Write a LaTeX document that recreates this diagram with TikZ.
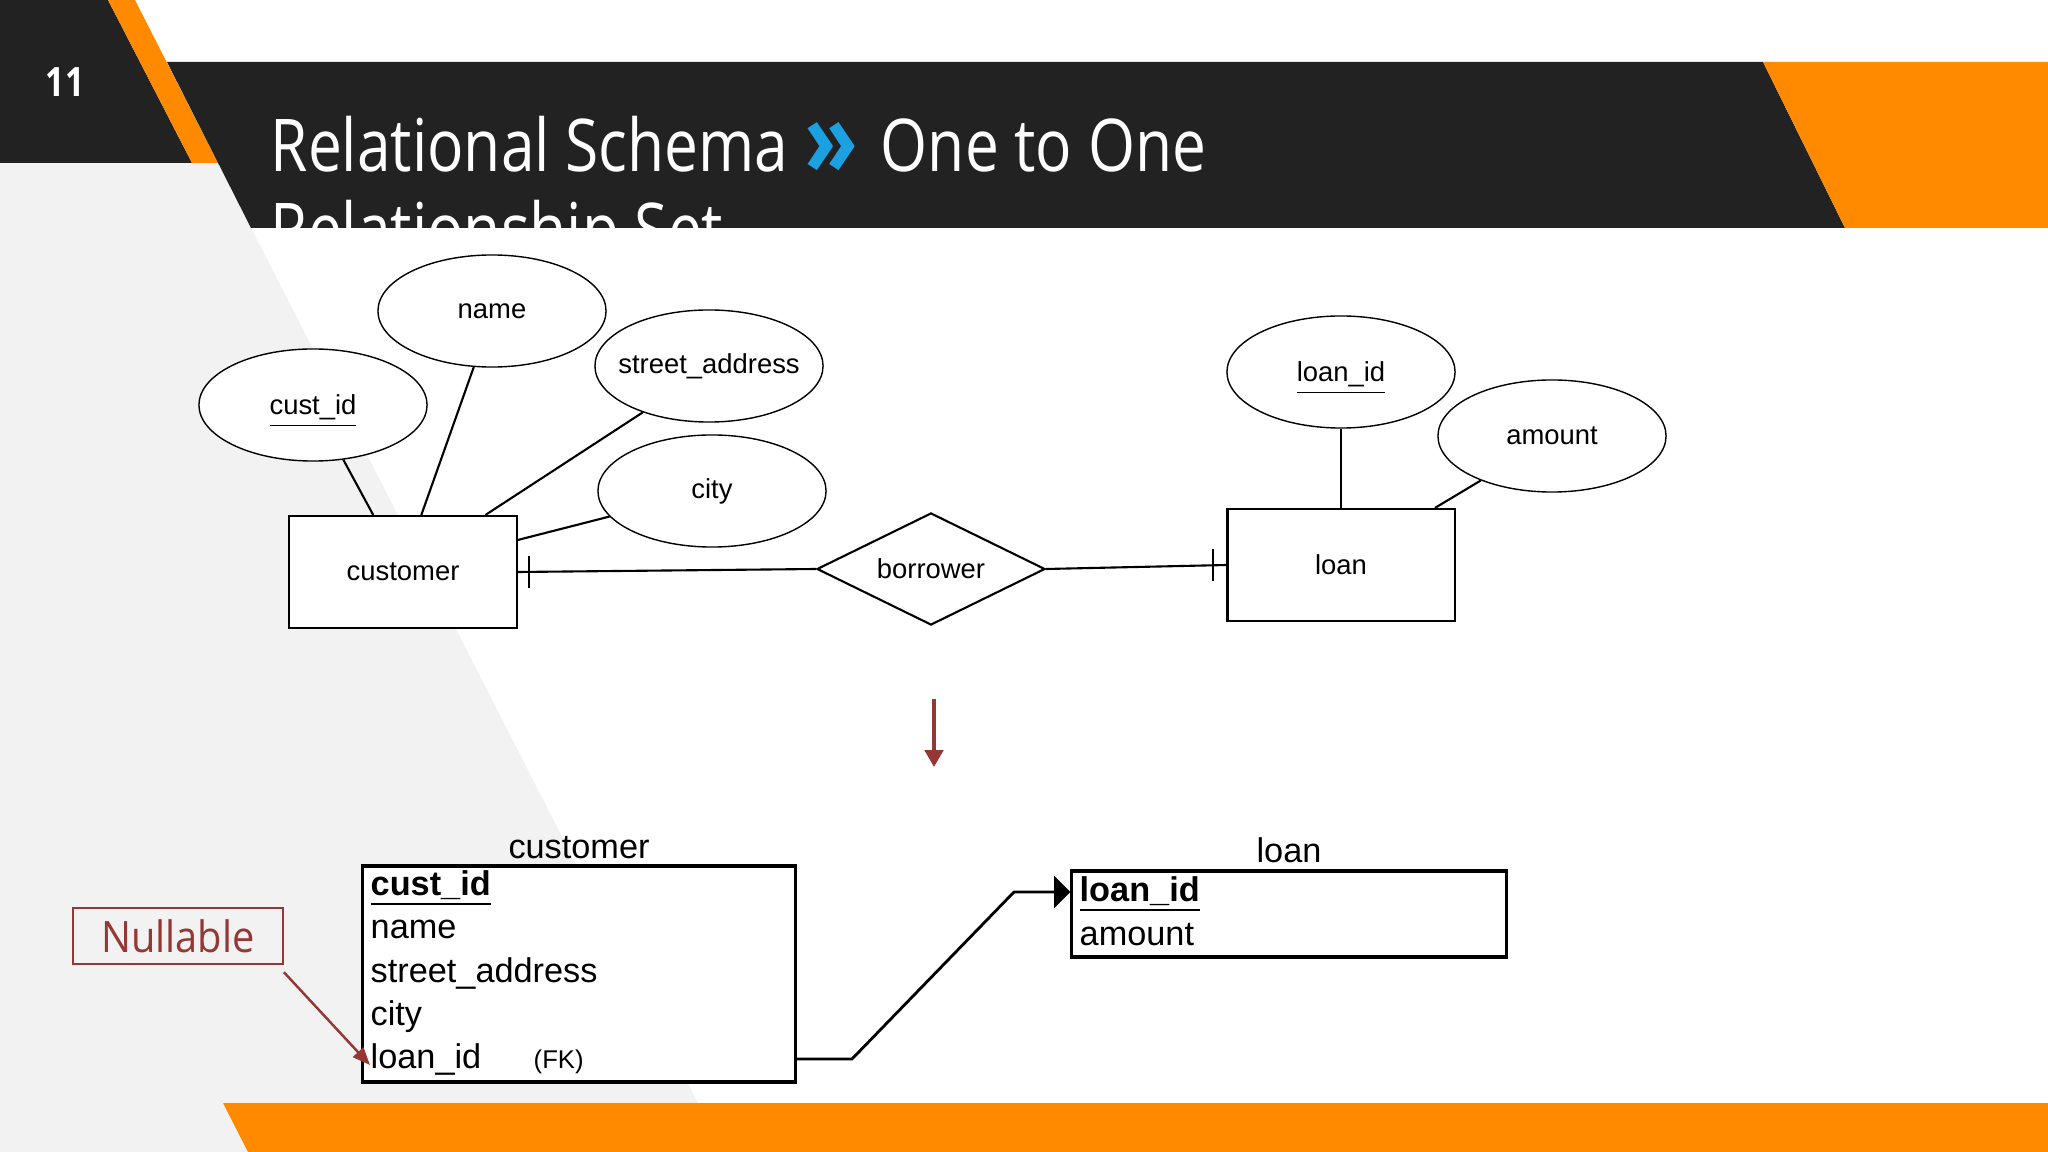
\documentclass[tikz,border=0pt]{standalone}
\usepackage{fontspec}
\setmainfont{Liberation Sans}
\newfontfamily\titlefont[FakeStretch=0.83]{Open Sans}
\newfontfamily\notefont[FakeStretch=0.92]{Open Sans}
\usetikzlibrary{shapes.geometric,positioning,calc,arrows.meta}

\definecolor{slidedark}{HTML}{222222}
\definecolor{slideorange}{HTML}{FF8A00}
\definecolor{slidegray}{HTML}{F2F2F2}
\definecolor{chevblue}{HTML}{1BA1E2}
\definecolor{noteRed}{HTML}{953735}

\tikzset{
  attr/.style={ellipse, draw, line width=0.4pt, fill=white, inner sep=0pt,
    minimum width=2.28cm, minimum height=1.12cm, font=\fontsize{7.8pt}{9pt}\selectfont},
  entity/.style={rectangle, draw, line width=0.6pt, fill=white,
    minimum width=2.27cm, minimum height=1.12cm, font=\fontsize{7.8pt}{9pt}\selectfont},
  relation/.style={diamond, aspect=2, draw, line width=0.6pt, fill=white, inner sep=0pt,
    minimum width=2.28cm, minimum height=1.12cm, font=\fontsize{7.8pt}{9pt}\selectfont},
  erline/.style={line width=0.6pt},
  tick/.style={line width=0.6pt},
  tabbox/.style={rectangle, draw, line width=0.9pt, fill=white, inner sep=0pt},
  tabtitle/.style={inner sep=0pt, font=\fontsize{9.75pt}{11pt}\selectfont},
  tabrow/.style={anchor=base west, inner sep=0pt, font=\fontsize{9.75pt}{11pt}\selectfont},
  titletext/.style={anchor=base west, inner sep=0pt, text=white,
    font=\titlefont\fontsize{20.7pt}{24pt}\selectfont},
}

\begin{document}
\begin{tikzpicture}[x=0.01cm, y=-0.01cm]
  \useasboundingbox (0,0) rectangle (2048,1152);

  % slide background
  \fill[slidegray] (0,163) -- (218,163) -- (723,1152) -- (0,1152) -- cycle;
  \fill[slidedark] (0,0) -- (108,0) -- (192,163) -- (0,163) -- cycle;
  \fill[slideorange] (108,0) -- (135,0) -- (218,163) -- (192,163) -- cycle;
  \fill[slidedark] (167,62) -- (1763,62) -- (1845,228) -- (251,228) -- cycle;
  \fill[slideorange] (1763,62) -- (2048,62) -- (2048,228) -- (1845,228) -- cycle;
  \fill[slideorange] (223,1103) -- (2048,1103) -- (2048,1152) -- (248,1152) -- cycle;

  % slide number and title
  \node[text=white, font=\titlefont\bfseries\fontsize{11.5pt}{13pt}\selectfont] (slideno) at (65,82) {11};
  \begin{scope}
    \clip (0,62) rectangle (2048,228);
    \node[titletext] (title1) at (270,172) {Relational Schema
      \textcolor{chevblue}{\bfseries\fontsize{30pt}{30pt}\selectfont\raisebox{-1pt}{»}}\hspace{0.1em} One to One};
    \node[titletext] (title2) at (270,256) {Relationship Set};
  \end{scope}

  % E-R diagram
  \node[attr, text depth=0pt] (custid) at (313,405) {\underline{cust\_id}};
  \node[attr] (name) at (492,311) {name};
  \node[attr, inner xsep=-0.12cm] (street) at (709,366) {street\_address};
  \node[attr] (city) at (712,491) {city};
  \node[entity] (customer) at (403,572) {customer};

  \node[relation] (borrower) at (931,569) {borrower};

  \node[attr, text depth=0pt] (loanid) at (1341,372) {\underline{loan\_id}};
  \node[attr] (amount) at (1552,436) {amount};
  \node[entity] (loan) at (1341,565) {loan};

  \draw[erline] (custid.-61) -- ($(customer.north west)!0.37!(customer.north east)$);
  \draw[erline] (name.-108) -- ($(customer.north west)!0.58!(customer.north east)$);
  \draw[erline] (street.-145) -- ($(customer.north west)!0.86!(customer.north east)$);
  \draw[erline] (city.-166) -- ($(customer.north east)!0.22!(customer.south east)$);
  \draw[erline] (loanid.south) -- (loan.north);
  \draw[erline] (amount.-148) -- ($(loan.north west)!0.91!(loan.north east)$);

  \draw[erline] (customer.east) -- (borrower.west);
  \draw[tick] ([xshift=0.11cm]customer.east) ++(0,-16) -- ++(0,32);
  \draw[erline] (borrower.east) -- (loan.west);
  \draw[tick] ([xshift=-0.13cm]loan.west) ++(0,-16) -- ++(0,32);

  % mapping arrow
  \coordinate (mapfrom) at (934,699);
  \coordinate (mapto) at (934,767);
  \draw[noteRed, line width=1.1pt, -{Triangle[length=4.8pt, width=5.2pt]}] (mapfrom) -- (mapto);

  % relational tables
  \node[tabbox, minimum width=4.32cm, minimum height=2.16cm] (custtab) at (579,974) {};
  \node[tabtitle, above=0.05cm of custtab] (custtitle) {customer};
  \node[tabrow] (custrow1) at (370,895) {\bfseries\underline{cust\_id}};
  \node[tabrow] (custrow2) at (370,938) {name};
  \node[tabrow] (custrow3) at (370,982) {street\_address};
  \node[tabrow] (custrow4) at (370,1025) {city};
  \node[tabrow] (custrow5) at (370,1068) {loan\_id};
  \node[tabrow, font=\fontsize{7.3pt}{9pt}\selectfont] (fk) at (533,1068) {(FK)};

  \node[tabbox, minimum width=4.34cm, minimum height=0.86cm] (loantab) at (1289,914) {};
  \node[tabtitle, above=0.06cm of loantab] (loantitle) {loan};
  \node[tabrow] (loanrow1) at (1079,901) {\bfseries\underline{loan\_id}};
  \node[tabrow] (loanrow2) at (1079,945) {amount};

  \coordinate (fkbend1) at (852,1059);
  \coordinate (fkbend2) at (1014,892);
  \draw[line width=0.8pt, -{Triangle[length=4.6pt, width=9pt]}]
    (custtab.east |- custrow5.center) -- (fkbend1) -- (fkbend2) -- (loantab.west |- fkbend2);

  % nullable note
  \node[draw=noteRed, line width=0.5pt, text=noteRed, minimum width=2.10cm, minimum height=0.54cm,
    font=\notefont\fontsize{12.3pt}{14pt}\selectfont] (nullable) at (178,936) {Nullable};
  \draw[noteRed, line width=0.7pt, -{Triangle[length=5pt, width=4pt]}]
    ([yshift=-0.07cm]nullable.south east) -- ([yshift=0.03cm]custrow5.base west);
\end{tikzpicture}
\end{document}
